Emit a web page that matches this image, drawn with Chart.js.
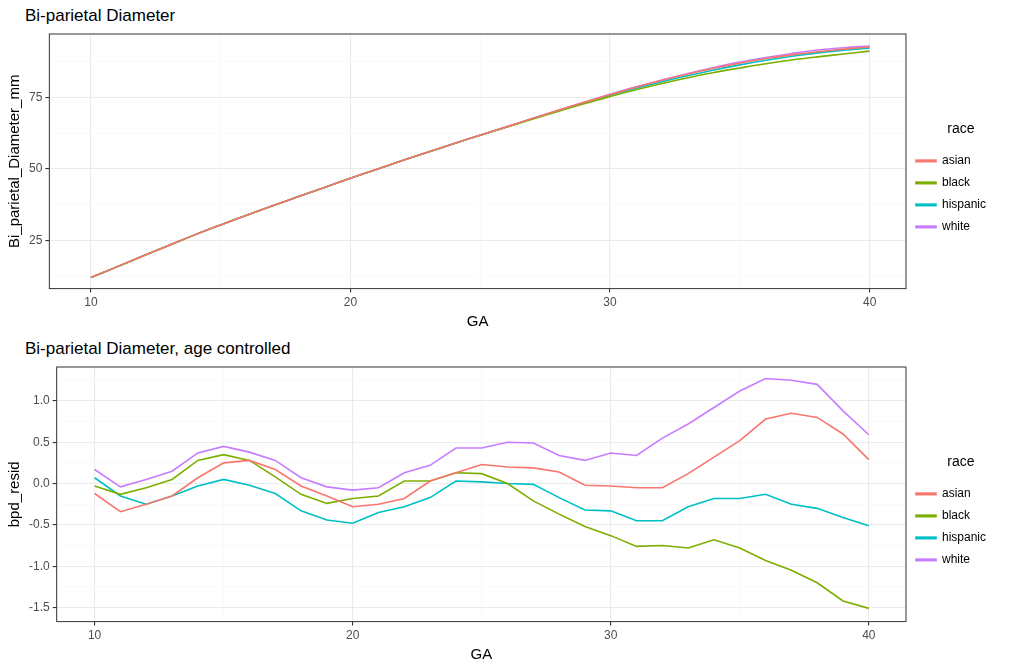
<!DOCTYPE html>
<html>
<head>
<meta charset="utf-8">
<script src="https://cdn.jsdelivr.net/npm/chart.js@4"></script>
<style>
  body { margin: 0; background: #fff; font-family: "Liberation Sans", Arial, sans-serif; }
  .panel { position: absolute; left: 0; width: 1024px; }
  .ttl { position: absolute; left: 25px; font-size: 17px; color: #000; }
</style>
</head>
<body>
<div class="ttl" style="top:6px">Bi-parietal Diameter</div>
<div class="ttl" style="top:339px">Bi-parietal Diameter, age controlled</div>
<div class="panel" style="top:0;height:333px"><canvas id="top"></canvas></div>
<div class="panel" style="top:333px;height:333px"><canvas id="bottom"></canvas></div>
<script>
const races = ['asian', 'black', 'hispanic', 'white'];
const colors = ['#F8766D', '#7CAE00', '#00BFC4', '#C77CFF'];
const ga = [10,11,12,13,14,15,16,17,18,19,20,21,22,23,24,25,26,27,28,29,30,31,32,33,34,35,36,37,38,39,40];

// Bi-parietal diameter (mm)
const bpdAsian    = [12,15.7,19.5,23.2,26.9,30.4,33.8,37.1,40.3,43.5,46.7,49.8,52.9,55.9,58.9,61.8,64.7,67.6,70.5,73.3,76.0,78.6,81.0,83.2,85.2,87.0,88.6,89.9,91.0,91.9,92.7];
const bpdBlack    = [12,15.7,19.5,23.2,26.9,30.4,33.8,37.1,40.3,43.5,46.7,49.8,52.9,55.9,58.9,61.8,64.6,67.4,70.1,72.8,75.3,77.7,79.9,81.9,83.7,85.3,86.8,88.1,89.2,90.2,91.2];
const bpdHispanic = [12,15.7,19.5,23.2,26.9,30.4,33.8,37.1,40.3,43.5,46.7,49.8,52.9,55.9,58.9,61.8,64.6,67.5,70.3,73.1,75.7,78.2,80.5,82.6,84.6,86.4,88.0,89.4,90.6,91.5,92.3];
const bpdWhite    = [12,15.7,19.5,23.2,26.9,30.4,33.8,37.1,40.3,43.5,46.7,49.8,52.9,55.9,58.9,61.8,64.7,67.6,70.5,73.3,76.1,78.7,81.1,83.4,85.5,87.4,89.0,90.4,91.6,92.4,93.0];

// residuals, age controlled
const residAsian    = [-0.12,-0.34,-0.25,-0.15,0.07,0.25,0.28,0.17,-0.03,-0.15,-0.28,-0.25,-0.18,0.03,0.13,0.23,0.20,0.19,0.14,-0.02,-0.03,-0.05,-0.05,0.12,0.32,0.52,0.78,0.85,0.80,0.60,0.29];
const residBlack    = [-0.03,-0.13,-0.05,0.05,0.28,0.35,0.28,0.08,-0.13,-0.24,-0.18,-0.15,0.03,0.03,0.13,0.12,0.00,-0.21,-0.37,-0.52,-0.63,-0.76,-0.75,-0.78,-0.68,-0.78,-0.93,-1.05,-1.20,-1.42,-1.51];
const residHispanic = [0.07,-0.15,-0.25,-0.15,-0.03,0.05,-0.02,-0.12,-0.33,-0.44,-0.48,-0.35,-0.28,-0.17,0.03,0.02,0.00,-0.01,-0.17,-0.32,-0.33,-0.45,-0.45,-0.28,-0.18,-0.18,-0.13,-0.25,-0.30,-0.41,-0.51];
const residWhite    = [0.17,-0.04,0.05,0.15,0.37,0.45,0.38,0.28,0.07,-0.04,-0.08,-0.05,0.13,0.22,0.43,0.43,0.50,0.49,0.34,0.28,0.37,0.34,0.55,0.72,0.92,1.12,1.27,1.25,1.20,0.88,0.59];

const xTicks = [10, 15, 20, 25, 30, 35, 40];
const topTicks = [12.5, 25, 37.5, 50, 62.5, 75, 87.5];
const bottomTicks = [-1.5, -1.25, -1, -0.75, -0.5, -0.25, 0, 0.25, 0.5, 0.75, 1, 1.25];

const tickFont = { family: 'Liberation Sans', size: 12 };
const grid = (isMajor) => ({
  color: ctx => isMajor(ctx.tick && ctx.tick.value) ? '#ebebeb' : '#f6f6f6',
  lineWidth: ctx => isMajor(ctx.tick && ctx.tick.value) ? 1.1 : 0.6,
  tickColor: ctx => isMajor(ctx.tick && ctx.tick.value) ? '#333' : 'rgba(0,0,0,0)',
  tickLength: 4, drawTicks: true
});

const frame = {
  id: 'frame',
  afterDraw(chart) {
    const { ctx, chartArea: a } = chart;
    ctx.save();
    ctx.strokeStyle = '#333';
    ctx.lineWidth = 1;
    ctx.strokeRect(a.left, a.top, a.right - a.left, a.bottom - a.top);
    ctx.restore();
  }
};

function makeChart(id, series, yTitle, yMin, yMax, yTicks, yMajor, xMin, xMax, yFmt) {
  new Chart(document.getElementById(id), {
    type: 'line',
    data: {
      datasets: races.map((r, i) => ({
        label: r,
        data: ga.map((g, j) => ({ x: g, y: series[i][j] })),
        borderColor: colors[i], backgroundColor: colors[i],
        borderWidth: 1.6, pointRadius: 0, tension: id === 'top' ? 0.4 : 0
      }))
    },
    options: {
      responsive: true, maintainAspectRatio: false, animation: false,
      layout: { padding: { left: 4, right: 8, top: 34, bottom: 2 } },
      plugins: {
        legend: {
          position: 'right',
          title: { display: true, text: 'race', color: '#000', font: { family: 'Liberation Sans', size: 14 }, padding: { top: 0, bottom: 6 } },
          labels: { color: '#000', font: { family: 'Liberation Sans', size: 12 }, boxWidth: 20, boxHeight: 1.5, padding: 10 }
        },
        tooltip: { enabled: false }
      },
      scales: {
        x: {
          type: 'linear', min: xMin, max: xMax,
          afterBuildTicks: s => { s.ticks = xTicks.map(v => ({ value: v })); },
          ticks: { color: '#4d4d4d', font: tickFont, callback: v => v % 10 === 0 ? v : '' },
          grid: grid(v => v % 10 === 0),
          border: { display: false },
          title: { display: true, text: 'GA', color: '#000', font: { family: 'Liberation Sans', size: 15 }, padding: 0 }
        },
        y: {
          min: yMin, max: yMax,
          afterBuildTicks: s => { s.ticks = yTicks.map(v => ({ value: v })); },
          ticks: { color: '#4d4d4d', font: tickFont, callback: v => yMajor(v) ? yFmt(v) : '' },
          grid: grid(yMajor),
          border: { display: false },
          title: { display: true, text: yTitle, color: '#000', font: { family: 'Liberation Sans', size: 15 }, padding: 2 }
        }
      }
    },
    plugins: [frame, {
      id: 'legendGap',
      beforeInit(chart) {
        const fit = chart.legend.fit;
        chart.legend.fit = function () { fit.call(this); this.width += 20; };
      }
    }]
  });
}

makeChart('top', [bpdAsian, bpdBlack, bpdHispanic, bpdWhite],
  'Bi_parietal_Diameter_mm', 8.1, 97.2, topTicks, v => v % 25 === 0, 8.4, 41.4, v => v);
makeChart('bottom', [residAsian, residBlack, residHispanic, residWhite],
  'bpd_resid', -1.67, 1.41, bottomTicks, v => Math.abs(v * 2 - Math.round(v * 2)) < 1e-6, 8.53, 41.44, v => v.toFixed(1));
</script>
</body>
</html>
